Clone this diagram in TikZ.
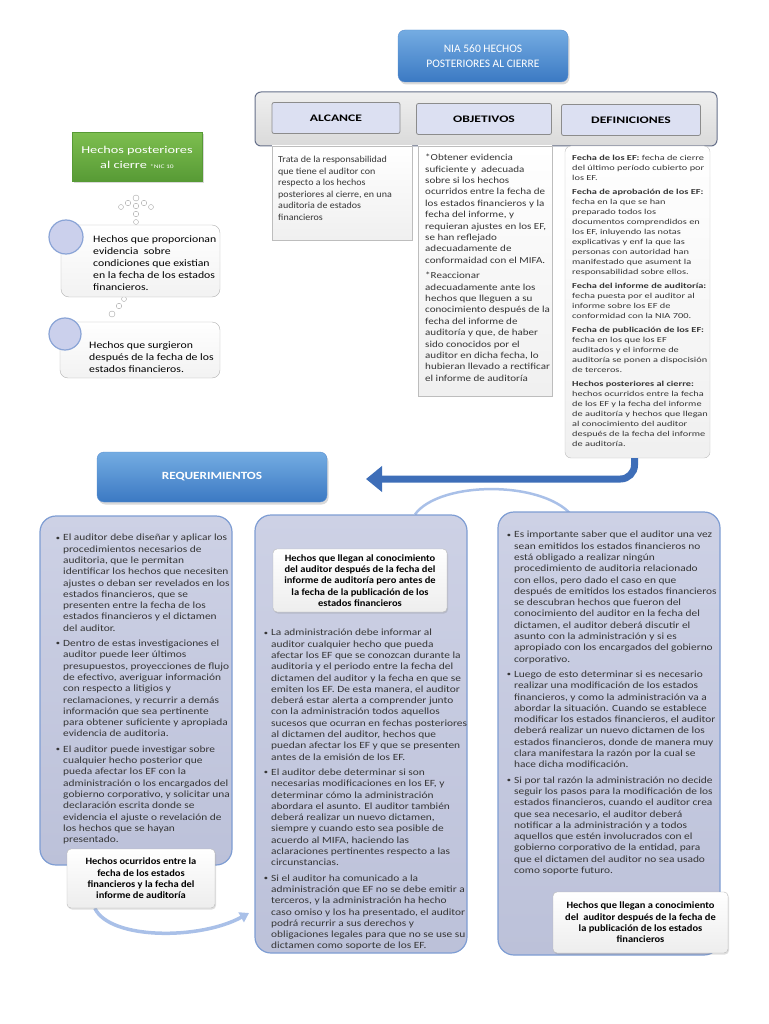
\documentclass[tikz,border=0pt]{standalone}
\usepackage{fontspec}
\setmainfont{Carlito}
\newfontfamily\fsA{Carlito}[FakeStretch=1.36]
\newfontfamily\fsB{Carlito}[FakeStretch=1.2]
\newfontfamily\fsC{Carlito}[FakeStretch=1.09]
\usepackage{tikz}
\usetikzlibrary{arrows.meta,positioning,shadows,backgrounds}
\definecolor{bodygray}{HTML}{363636}
\definecolor{bluetop}{HTML}{74ACE2}
\definecolor{bluebot}{HTML}{3B79C3}
\definecolor{blueedge}{HTML}{5A8ED0}
\definecolor{greentop}{HTML}{7DBE4F}
\definecolor{greenbot}{HTML}{579A35}
\definecolor{lavtop}{HTML}{CDD1E5}
\definecolor{lavbot}{HTML}{BCC1D9}
\definecolor{lavedge}{HTML}{7E9DD3}
\definecolor{hdrfill}{HTML}{DCE0F2}
\definecolor{hdredge}{HTML}{8C8C8C}
\definecolor{paneltop}{HTML}{EFEFEF}
\definecolor{panelbot}{HTML}{DADADA}
\definecolor{paneledge}{HTML}{66708A}
\definecolor{coledge}{HTML}{BDBDBD}
\definecolor{arrowblue}{HTML}{3E6EB8}
\definecolor{softblue}{HTML}{A9C0E8}
\definecolor{dotfill}{HTML}{CBD0EC}
\definecolor{dotedge}{HTML}{8AA4D6}
\tikzset{
  headbox/.style={rectangle, rounded corners=7pt, top color=bluetop, bottom color=bluebot, draw=blueedge, text=white, align=center, drop shadow={opacity=0.3, shadow xshift=1.5pt, shadow yshift=-2.5pt}},
  greenbox/.style={rectangle, top color=greentop, bottom color=greenbot, draw=greenbot, text=white, align=center, drop shadow={opacity=0.3, shadow xshift=2pt, shadow yshift=-2pt}},
  tabbox/.style={rectangle, rounded corners=2pt, fill=hdrfill, draw=hdredge, thick, font=\fsA\fontsize{10}{12}\selectfont\bfseries, text=black},
  colbox/.style={rectangle, top color=white, bottom color=gray!12, draw=coledge},
  reqbox/.style={rectangle, rounded corners=16pt, top color=lavtop, bottom color=lavbot, draw=lavedge, line width=1.2pt},
  tagbox/.style={rectangle, rounded corners=4pt, top color=white, bottom color=gray!14, draw=gray!55, align=center, text=black, font=\fsC\fontsize{9.6}{11.4}\selectfont\bfseries, drop shadow={opacity=0.25, shadow xshift=1pt, shadow yshift=-1.5pt}},
  notebox/.style={rectangle, rounded corners=8pt, top color=white, bottom color=gray!10, draw=gray!60},
  dot/.style={circle, fill=dotfill, draw=dotedge, line width=1.2pt, inner sep=0pt},
  bubble/.style={circle, fill=white, draw=gray!70, inner sep=0pt},
  bodytext/.style={anchor=north west, align=left, inner sep=0pt, text=bodygray},
  bigarrow/.style={-{Triangle[length=16pt,width=25pt]}, line width=7pt, draw=arrowblue},
  softarrow/.style={-{Triangle[length=9pt,width=11pt]}, line width=3.5pt, draw=softblue}
}
\newcommand{\bul}{\leavevmode\llap{\raisebox{0.6pt}{\scalebox{0.75}{\textbullet}}\hspace{3pt}}}

\begin{document}
\begin{tikzpicture}[x=1pt, y=-1pt,
  main/.style={font=\fsB\fontsize{9.5}{11.3}\selectfont},
  small/.style={font=\fsA\fontsize{7.6}{10}\selectfont}
]
\useasboundingbox (0,0) rectangle (768,1024);

\node[headbox, minimum width=170pt, minimum height=52pt, font=\fontsize{11.5}{15}\selectfont] (nia) at (483,56) {NIA 560 HECHOS\\POSTERIORES AL CIERRE};

\node[rectangle, rounded corners=6pt, top color=paneltop, bottom color=panelbot, draw=paneledge, line width=1pt, minimum width=462pt, minimum height=54pt] (panel) at (486,119) {};
\node[tabbox, minimum width=128pt, minimum height=31pt] (alcance) at (336,118) {ALCANCE};
\node[tabbox, minimum width=135pt, minimum height=31pt] (objetivos) at (484,119) {OBJETIVOS};
\node[tabbox, minimum width=139pt, minimum height=31pt] (definiciones) at (631,120) {DEFINICIONES};

\node[colbox, minimum width=140pt, minimum height=94pt] (alccol) at (342,193) {};
\node[colbox, minimum width=134pt, minimum height=250pt] (objcol) at (485,271) {};
\node[colbox, rounded corners=6pt, minimum width=145pt, minimum height=312pt] (defcol) at (637.5,302) {};

\node[bodytext, font=\fsC\fontsize{9.2}{11.5}\selectfont] (alctext) at (278,156) {Trata de la responsabilidad\\que tiene el auditor con\\respecto a los hechos\\posteriores al cierre, en una\\auditoria de estados\\financieros};

\node[bodytext, font=\fsB\fontsize{9.2}{11.4}\selectfont] (objtext) at (425,154) {*Obtener evidencia\\suficiente y\ \ adecuada\\sobre si los hechos\\ocurridos entre la fecha de\\los estados financieros y la\\fecha del informe, y\\requieran ajustes en los EF,\\se han reflejado\\adecuadamente de\\conformaidad con el MIFA.\\[4pt]*Reaccionar\\adecuadamente ante los\\hechos que lleguen a su\\conocimiento después de la\\fecha del informe de\\auditoría y que, de haber\\sido conocidos por el\\auditor en dicha fecha, lo\\hubieran llevado a rectificar\\el informe de auditoría};

\node[bodytext, small] (deftext) at (572,155) {\textbf{Fecha de los EF:} fecha de cierre\\del último período cubierto por\\los EF.\\[4pt]\textbf{Fecha de aprobación de los EF:}\\fecha en la que se han\\preparado todos los\\documentos comprendidos en\\los EF, inluyendo las notas\\explicativas y enf la que las\\personas con autoridad han\\manifestado que asument la\\responsabilidad sobre ellos.\\[4pt]\textbf{Fecha del informe de auditoría:}\\fecha puesta por el auditor al\\informe sobre los EF de\\conformidad con la NIA 700.\\[4pt]\textbf{Fecha de publicación de los EF:}\\fecha en los que los EF\\auditados y el informe de\\auditoría se ponen a dispocisión\\de terceros.\\[4pt]\textbf{Hechos posteriores al cierre:}\\hechos ocurridos entre la fecha\\de los EF y la fecha del informe\\de auditoría y hechos que llegan\\al conocimiento del auditor\\después de la fecha del informe\\de auditoría.};

\node[greenbox, minimum width=130pt, minimum height=49pt, font=\fsA\fontsize{10.5}{15}\selectfont] (nic) at (137,157) {Hechos posteriores\\al cierre {\fontsize{5.5}{7}\selectfont *NIC 10}};

\foreach \px/\py/\r [count=\i] in {121/207/5, 128/203/5.5, 136/198/6, 144/203/5.5, 151/207/5, 136/206/5.5, 136/214/5.5, 136/222/5, 124/299/5, 119/306/5.5, 112/314/6}
  \node[bubble, minimum size=\r pt] (bub\i) at (\px,\py) {};

\node[notebox, minimum width=159pt, minimum height=72pt] (evid) at (140.5,261) {};
\node[dot, minimum size=34pt] (dotone) at (66,237) {};
\node[bodytext, font=\fsB\fontsize{9.8}{12.2}\selectfont, text=black] (evidtext) at (93,235) {Hechos que proporcionan\\evidencia\ \ sobre\\condiciones que existian\\en la fecha de los estados\\financieros.};

\node[notebox, minimum width=160pt, minimum height=56pt] (surg) at (140,350) {};
\node[dot, minimum size=32pt] (dottwo) at (65,334) {};
\node[bodytext, font=\fsB\fontsize{9.8}{12.2}\selectfont, text=black] (surgtext) at (89,341) {Hechos que surgieron\\después de la fecha de los\\estados financieros.};

\node[headbox, minimum width=230pt, minimum height=50pt, font=\fsB\fontsize{11}{13}\selectfont\bfseries] (req) at (212,477) {REQUERIMIENTOS};
\coordinate (reqin) at (366,479);
\draw[bigarrow, rounded corners=14pt] ([xshift=-3pt]defcol.south) |- (reqin);

\node[reqbox, minimum width=192pt, minimum height=349pt] (leftbox) at (136,690.5) {};
\node[reqbox, minimum width=212pt, minimum height=438pt] (midbox) at (361,734) {};
\node[reqbox, minimum width=222pt, minimum height=443pt] (rightbox) at (609,733.5) {};

\node[bodytext, main] (lefttext) at (63,534) {\bul El auditor debe diseñar y aplicar los\\procedimientos necesarios de\\auditoria, que le permitan\\identificar los hechos que necesiten\\ajustes o deban ser revelados en los\\estados financieros, que se\\presenten entre la fecha de los\\estados financieros y el dictamen\\del auditor.\\[4pt]\bul Dentro de estas investigaciones el\\auditor puede leer últimos\\presupuestos, proyecciones de flujo\\de efectivo, averiguar información\\con respecto a litigios y\\reclamaciones, y recurrir a demás\\información que sea pertinente\\para obtener suficiente y apropiada\\evidencia de auditoria.\\[4pt]\bul El auditor puede investigar sobre\\cualquier hecho posterior que\\pueda afectar los EF con la\\administración o los encargados del\\gobierno corporativo, y solicitar una\\declaración escrita donde se\\evidencia el ajuste o revelación de\\los hechos que se hayan\\presentado.};

\node[tagbox, minimum width=148pt, minimum height=59pt] (leftlab) at (141,878.5) {Hechos ocurridos entre la\\fecha de los estados\\financieros y la fecha del\\informe de auditoría};

\node[tagbox, minimum width=174pt, minimum height=63pt] (midlab) at (360,580.5) {Hechos que llegan al conocimiento\\del auditor después de la fecha del\\informe de auditoría pero antes de\\la fecha de la publicación de los\\estados financieros};

\node[bodytext, main] (midtext) at (271,629) {\bul La administración debe informar al\\auditor cualquier hecho que pueda\\afectar los EF que se conozcan durante la\\auditoria y el periodo entre la fecha del\\dictamen del auditor y la fecha en que se\\emiten los EF. De esta manera, el auditor\\deberá estar alerta a comprender junto\\con la administración todos aquellos\\sucesos que ocurran en fechas posteriores\\al dictamen del auditor, hechos que\\puedan afectar los EF y que se presenten\\antes de la emisión de los EF.\\[4pt]\bul El auditor debe determinar si son\\necesarias modificaciones en los EF, y\\determinar cómo la administración\\abordara el asunto. El auditor también\\deberá realizar un nuevo dictamen,\\siempre y cuando esto sea posible de\\acuerdo al MIFA, haciendo las\\aclaraciones pertinentes respecto a las\\circunstancias.\\[4pt]\bul Si el auditor ha comunicado a la\\administración que EF no se debe emitir a\\terceros, y la administración ha hecho\\caso omiso y los ha presentado, el auditor\\podrá recurrir a sus derechos y\\obligaciones legales para que no se use su\\dictamen como soporte de los EF.};

\node[bodytext, main] (righttext) at (514,531) {\bul Es importante saber que el auditor una vez\\sean emitidos los estados financieros no\\está obligado a realizar ningún\\procedimiento de auditoria relacionado\\con ellos, pero dado el caso en que\\después de emitidos los estados financieros\\se descubran hechos que fueron del\\conocimiento del auditor en la fecha del\\dictamen, el auditor deberá discutir el\\asunto con la administración y si es\\apropiado con los encargados del gobierno\\corporativo.\\[4pt]\bul Luego de esto determinar si es necesario\\realizar una modificación de los estados\\financieros, y como la administración va a\\abordar la situación. Cuando se establece\\modificar los estados financieros, el auditor\\deberá realizar un nuevo dictamen de los\\estados financieros, donde de manera muy\\clara manifestara la razón por la cual se\\hace dicha modificación.\\[4pt]\bul Si por tal razón la administración no decide\\seguir los pasos para la modificación de los\\estados financieros, cuando el auditor crea\\que sea necesario, el auditor deberá\\notificar a la administración y a todos\\aquellos que estén involucrados con el\\gobierno corporativo de la entidad, para\\que el dictamen del auditor no sea usado\\como soporte futuro.};

\node[tagbox, minimum width=175pt, minimum height=61pt] (rightlab) at (640.5,922.5) {Hechos que llegan a conocimiento\\del\ \ auditor después de la fecha de\\la publicación de los estados\\financieros};

\begin{scope}[on background layer]
\coordinate (midin) at (249,913);
\draw[softarrow] ([xshift=28pt]leftlab.south west) .. controls (110,940) and (200,940) .. (midin);
\draw[softarrow, line width=2.5pt] ([xshift=54pt]midbox.north) .. controls (440,480) and (548,480) .. ([xshift=-30pt,yshift=-14pt]rightbox.north);
\end{scope}
\end{tikzpicture}
\end{document}
